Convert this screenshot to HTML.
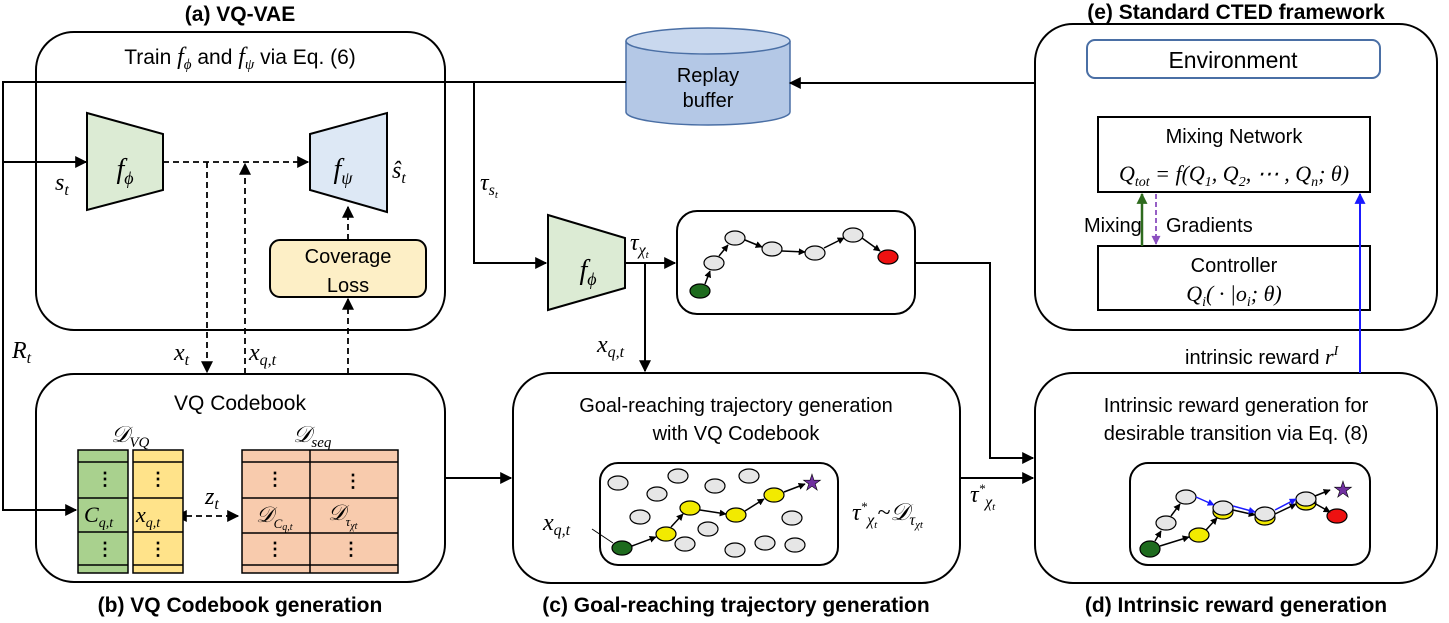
<!DOCTYPE html>
<html><head><meta charset="utf-8"><style>
body{margin:0;background:#fff}
svg text{font-family:"Liberation Sans",sans-serif;}
svg text.m,svg .m{font-family:"Liberation Serif","DejaVu Serif",serif;font-style:italic}
</style></head><body>
<svg width="1449" height="618" viewBox="0 0 1449 618" xmlns="http://www.w3.org/2000/svg">
<defs>
<marker id="a" viewBox="0 0 10 10" refX="9" refY="5" markerWidth="13" markerHeight="12" orient="auto-start-reverse" markerUnits="userSpaceOnUse"><path d="M0,0L10,5L0,10z" fill="#000"/></marker>
<marker id="s" viewBox="0 0 10 10" refX="9" refY="5" markerWidth="7" markerHeight="7" orient="auto" markerUnits="userSpaceOnUse"><path d="M0,0L10,5L0,10z" fill="#000"/></marker>
<marker id="bs" viewBox="0 0 10 10" refX="9" refY="5" markerWidth="7" markerHeight="7" orient="auto" markerUnits="userSpaceOnUse"><path d="M0,0L10,5L0,10z" fill="#1a1aff"/></marker>
<marker id="bl" viewBox="0 0 10 10" refX="9" refY="5" markerWidth="12" markerHeight="11" orient="auto" markerUnits="userSpaceOnUse"><path d="M0,0L10,5L0,10z" fill="#1a1aff"/></marker>
<marker id="g" viewBox="0 0 10 10" refX="9" refY="5" markerWidth="12" markerHeight="11" orient="auto" markerUnits="userSpaceOnUse"><path d="M0,0L10,5L0,10z" fill="#2e6b1e"/></marker>
<marker id="p" viewBox="0 0 10 10" refX="9" refY="5" markerWidth="10" markerHeight="9" orient="auto" markerUnits="userSpaceOnUse"><path d="M0,0L10,5L0,10z" fill="#8a4fbf"/></marker>
</defs>
<g fill="none" stroke="#000" stroke-width="2">
<rect x="36" y="32" width="409" height="298" rx="38"/>
<rect x="36" y="374" width="409" height="208" rx="38"/>
<rect x="513" y="373" width="447" height="210" rx="38"/>
<rect x="1035" y="373" width="402" height="210" rx="38"/>
<rect x="1035" y="24" width="402" height="306" rx="38"/>
<rect x="677" y="211" width="238" height="103" rx="20"/>
<rect x="600" y="463" width="238" height="102" rx="18"/>
<rect x="1130" y="463" width="240" height="102" rx="18"/>
</g>
<g font-size="21" text-anchor="middle" font-weight="bold">
<text x="240" y="21">(a) VQ-VAE</text>
<text x="240" y="612">(b) VQ Codebook generation</text>
<text x="736" y="612">(c) Goal-reaching trajectory generation</text>
<text x="1236" y="612">(d) Intrinsic reward generation</text>
<text x="1236" y="19">(e) Standard CTED framework</text>
</g>
<path d="M626,41 L626,112 A82,13 0 0 0 790,112 L790,41" fill="#b4c8e6" stroke="#4a6fa5" stroke-width="1.5"/>
<ellipse cx="708" cy="41" rx="82" ry="13" fill="#c9d8ee" stroke="#4a6fa5" stroke-width="1.5"/>
<text x="708" y="82" font-size="20" text-anchor="middle">Replay</text>
<text x="708" y="107" font-size="20" text-anchor="middle">buffer</text>
<g stroke="#000" stroke-width="2" fill="none">
<path d="M1035,83 L790,83" marker-end="url(#a)"/>
<path d="M626,82 L3,82 L3,510 L76,510" marker-end="url(#a)"/>
<path d="M3,162 L86,162" marker-end="url(#a)"/>
<path d="M474,82 L474,263 L546,263" marker-end="url(#a)"/>
<path d="M625,263 L675,263" marker-end="url(#a)"/>
<path d="M645,263 L645,371" marker-end="url(#a)"/>
<path d="M915,263 L990,263 L990,458 L1033,458" marker-end="url(#a)"/>
<path d="M445,478 L511,478" marker-end="url(#a)"/>
<path d="M960,478 L1033,478" marker-end="url(#a)"/>
</g>
<g stroke="#000" stroke-width="1.8" fill="none" stroke-dasharray="6,4">
<path d="M163,162 L308,162" marker-end="url(#a)"/>
<path d="M207,162 L207,372" marker-end="url(#a)"/>
<path d="M245,374 L245,164" marker-end="url(#a)"/>
<path d="M348,240 L348,207" marker-end="url(#a)"/>
<path d="M348,374 L348,299" marker-end="url(#a)"/>
<path d="M176,516 L238,516" marker-end="url(#a)" marker-start="url(#a)"/>
</g>
<polygon points="87,113 163,134 163,190 87,210" fill="#dcebd4" stroke="#000" stroke-width="2"/>
<polygon points="310,134 387,113 387,212 310,190" fill="#dde8f5" stroke="#000" stroke-width="2"/>
<polygon points="548,215 625,238 625,288 548,310" fill="#dcebd4" stroke="#000" stroke-width="2"/>
<text x="125" y="178" font-size="28" class="m" text-anchor="middle">f<tspan font-size="18" dy="6">ϕ</tspan></text>
<text x="343" y="178" font-size="28" class="m" text-anchor="middle">f<tspan font-size="18" dy="6">ψ</tspan></text>
<text x="588" y="279" font-size="28" class="m" text-anchor="middle">f<tspan font-size="18" dy="6">ϕ</tspan></text>
<rect x="270" y="240" width="156" height="57" rx="10" fill="#fdefc6" stroke="#000" stroke-width="2"/>
<text x="348" y="263" font-size="20" text-anchor="middle">Coverage</text>
<text x="348" y="292" font-size="20" text-anchor="middle">Loss</text>
<text x="240" y="64" font-size="21" text-anchor="middle">Train <tspan class="m" font-size="24">f</tspan><tspan class="m" font-size="15" dy="5">ϕ</tspan><tspan dy="-5"> and </tspan><tspan class="m" font-size="24">f</tspan><tspan class="m" font-size="15" dy="5">ψ</tspan><tspan dy="-5"> via Eq. (6)</tspan></text>
<g class="m" font-size="24">
<text x="55" y="190" class="m">s<tspan font-size="16" dy="5">t</tspan></text>
<text x="392" y="178" class="m">ŝ<tspan font-size="16" dy="5">t</tspan></text>
<text x="480" y="190" class="m">τ<tspan font-size="16" dy="5">s</tspan><tspan font-size="11" dy="3">t</tspan></text>
<text x="630" y="250" class="m">τ<tspan font-size="16" dy="5">χ</tspan><tspan font-size="11" dy="3">t</tspan></text>
<text x="12" y="358" class="m">R<tspan font-size="16" dy="5">t</tspan></text>
<text x="174" y="360" class="m">x<tspan font-size="16" dy="5">t</tspan></text>
<text x="249" y="360" class="m">x<tspan font-size="16" dy="5">q,t</tspan></text>
<text x="597" y="352" class="m">x<tspan font-size="16" dy="5">q,t</tspan></text>
<text x="543" y="530" class="m">x<tspan font-size="16" dy="5">q,t</tspan></text>
<text x="205" y="504" class="m">z<tspan font-size="16" dy="5">t</tspan></text>
<text x="852" y="520" class="m">τ<tspan font-size="13" dy="-9">*</tspan><tspan font-size="16" dy="14">χ</tspan><tspan font-size="11" dy="3">t</tspan><tspan dy="-8">~𝒟</tspan><tspan font-size="16" dy="5">τ</tspan><tspan font-size="11" dy="3">χt</tspan></text>
<text x="970" y="502" class="m">τ<tspan font-size="13" dy="-9">*</tspan><tspan font-size="16" dy="14">χ</tspan><tspan font-size="11" dy="3">t</tspan></text>
</g>
<text x="240" y="410" font-size="21" text-anchor="middle">VQ Codebook</text>
<text x="111" y="442" font-size="23" class="m">𝒟<tspan font-size="15" dy="5">VQ</tspan></text>
<text x="293" y="442" font-size="23" class="m">𝒟<tspan font-size="15" dy="5">seq</tspan></text>
<g stroke="#000" stroke-width="1.5">
<rect x="78" y="450" width="50" height="123" fill="#a9d18e"/>
<rect x="133" y="450" width="50" height="123" fill="#ffe38a"/>
<rect x="242" y="450" width="156" height="123" fill="#f8cbad"/>
<path d="M310,450V573 M78,462H128 M78,498H128 M78,532H128 M78,565H128 M133,462H183 M133,498H183 M133,532H183 M133,565H183 M242,462H398 M242,498H398 M242,533H398 M242,565H398"/>
</g>
<g font-size="18" text-anchor="middle" font-weight="bold">
<text x="105" y="485">⋮</text><text x="158" y="485">⋮</text><text x="105" y="555">⋮</text><text x="158" y="555">⋮</text>
<text x="275" y="485">⋮</text><text x="353" y="487">⋮</text><text x="275" y="555">⋮</text><text x="351" y="555">⋮</text>
</g>
<g font-size="22">
<text x="84" y="522" class="m">C<tspan font-size="14" dy="5">q,t</tspan></text>
<text x="136" y="522" class="m">x<tspan font-size="14" dy="5">q,t</tspan></text>
<text x="256" y="522" class="m">𝒟<tspan font-size="13" dy="6">C</tspan><tspan font-size="10" dy="2">q,t</tspan></text>
<text x="328" y="520" class="m">𝒟<tspan font-size="13" dy="6">τ</tspan><tspan font-size="10" dy="3">χt</tspan></text>
</g>
<g stroke="#000" stroke-width="1.2">
<ellipse cx="700" cy="291" rx="10" ry="7" fill="#1e6b1e"/>
<ellipse cx="714" cy="263" rx="10" ry="7" fill="#e6e6e6"/>
<ellipse cx="735" cy="238" rx="10" ry="7" fill="#e6e6e6"/>
<ellipse cx="772" cy="249" rx="10" ry="7" fill="#e6e6e6"/>
<ellipse cx="815" cy="253" rx="10" ry="7" fill="#e6e6e6"/>
<ellipse cx="853" cy="235" rx="10" ry="7" fill="#e6e6e6"/>
<ellipse cx="888" cy="257" rx="10" ry="7" fill="#ee1111"/>
</g>
<g stroke="#000" stroke-width="1.5" marker-end="url(#s)">
<path d="M705,284L710,271"/><path d="M719,256L728,245"/><path d="M745,240L762,247"/><path d="M782,251L805,252"/><path d="M824,248L844,238"/><path d="M862,238L880,251"/>
</g>
<text x="736" y="412" font-size="20" text-anchor="middle">Goal-reaching trajectory generation</text>
<text x="736" y="440" font-size="20" text-anchor="middle">with VQ Codebook</text>
<g stroke="#000" stroke-width="1.2" fill="#e6e6e6">
<ellipse cx="618" cy="483" rx="10" ry="7"/><ellipse cx="678" cy="476" rx="10" ry="7"/><ellipse cx="749" cy="476" rx="10" ry="7"/>
<ellipse cx="657" cy="494" rx="10" ry="7"/><ellipse cx="715" cy="486" rx="10" ry="7"/><ellipse cx="640" cy="517" rx="10" ry="7"/>
<ellipse cx="708" cy="529" rx="10" ry="7"/><ellipse cx="685" cy="544" rx="10" ry="7"/><ellipse cx="735" cy="550" rx="10" ry="7"/>
<ellipse cx="765" cy="543" rx="10" ry="7"/><ellipse cx="795" cy="545" rx="10" ry="7"/><ellipse cx="792" cy="518" rx="10" ry="7"/>
</g>
<g stroke="#000" stroke-width="1.2">
<ellipse cx="622" cy="548" rx="10" ry="7" fill="#1e6b1e"/>
<ellipse cx="666" cy="534" rx="10" ry="7" fill="#f2ea00"/>
<ellipse cx="690" cy="508" rx="10" ry="7" fill="#f2ea00"/>
<ellipse cx="736" cy="515" rx="10" ry="7" fill="#f2ea00"/>
<ellipse cx="774" cy="495" rx="10" ry="7" fill="#f2ea00"/>
</g>
<g stroke="#000" stroke-width="1.5" marker-end="url(#s)">
<path d="M632,546L656,537"/><path d="M671,527L683,514"/><path d="M700,510L726,514"/><path d="M745,511L764,499"/><path d="M784,492L805,484"/>
</g>
<path d="M592,529L613,543" stroke="#000" stroke-width="1"/>
<text x="812" y="490" font-size="22" fill="#7030a0" stroke="#000" stroke-width="0.6" text-anchor="middle">★</text>
<text x="1236" y="412" font-size="20" text-anchor="middle">Intrinsic reward generation for</text>
<text x="1236" y="440" font-size="20" text-anchor="middle">desirable transition via Eq. (8)</text>
<g stroke="#000" stroke-width="1.2">
<ellipse cx="1150" cy="549" rx="10" ry="8" fill="#1e6b1e"/>
<ellipse cx="1166" cy="523" rx="10" ry="7" fill="#e6e6e6"/>
<ellipse cx="1186" cy="497" rx="10" ry="7" fill="#e6e6e6"/>
<ellipse cx="1199" cy="535" rx="10" ry="7" fill="#f2ea00"/>
<ellipse cx="1223" cy="512" rx="10" ry="7" fill="#f2ea00"/><ellipse cx="1223" cy="508" rx="10" ry="7" fill="#e6e6e6"/>
<ellipse cx="1265" cy="518" rx="10" ry="7" fill="#f2ea00"/><ellipse cx="1265" cy="514" rx="10" ry="7" fill="#e6e6e6"/>
<ellipse cx="1306" cy="503" rx="10" ry="7" fill="#f2ea00"/><ellipse cx="1306" cy="499" rx="10" ry="7" fill="#e6e6e6"/>
<ellipse cx="1337" cy="516" rx="10" ry="7" fill="#ee1111"/>
</g>
<g stroke="#000" stroke-width="1.5" marker-end="url(#s)">
<path d="M1155,541L1161,531"/><path d="M1171,516L1180,504"/><path d="M1160,546L1189,537"/><path d="M1206,530L1217,518"/><path d="M1233,510L1255,515"/><path d="M1275,514L1296,504"/><path d="M1315,496L1330,490"/><path d="M1314,503L1330,512"/>
</g>
<g stroke="#1a1aff" stroke-width="1.5" marker-end="url(#bs)">
<path d="M1196,497L1214,505"/><path d="M1233,506L1255,512"/><path d="M1275,510L1296,499"/>
</g>
<text x="1343" y="497" font-size="22" fill="#7030a0" stroke="#000" stroke-width="0.6" text-anchor="middle">★</text>
<rect x="1087" y="40" width="293" height="38" rx="8" fill="#fff" stroke="#4a6fa5" stroke-width="2"/>
<text x="1233" y="68" font-size="23" text-anchor="middle">Environment</text>
<rect x="1098" y="117" width="272" height="75" fill="#fff" stroke="#000" stroke-width="2"/>
<text x="1234" y="143" font-size="20" text-anchor="middle">Mixing Network</text>
<text x="1234" y="181" font-size="22" class="m" text-anchor="middle">Q<tspan font-size="14" dy="5">tot</tspan><tspan dy="-5"> = f(Q</tspan><tspan font-size="14" dy="5">1</tspan><tspan dy="-5">, Q</tspan><tspan font-size="14" dy="5">2</tspan><tspan dy="-5">, ⋯ , Q</tspan><tspan font-size="14" dy="5">n</tspan><tspan dy="-5">; θ)</tspan></text>
<rect x="1098" y="246" width="272" height="64" fill="#fff" stroke="#000" stroke-width="2"/>
<text x="1234" y="272" font-size="20" text-anchor="middle">Controller</text>
<text x="1234" y="301" font-size="22" class="m" text-anchor="middle">Q<tspan font-size="14" dy="5">i</tspan><tspan dy="-5">( · |o</tspan><tspan font-size="14" dy="5">i</tspan><tspan dy="-5">; θ)</tspan></text>
<path d="M1142,246L1142,194" stroke="#2e6b1e" stroke-width="2.5" marker-end="url(#g)"/>
<path d="M1156,194L1156,244" stroke="#8a4fbf" stroke-width="1.8" stroke-dasharray="5,3" marker-end="url(#p)"/>
<text x="1084" y="232" font-size="20">Mixing</text>
<text x="1166" y="232" font-size="20">Gradients</text>
<path d="M1360,373L1360,194" stroke="#1a1aff" stroke-width="2" marker-end="url(#bl)"/>
<text x="1185" y="364" font-size="20">intrinsic reward <tspan class="m" font-size="22">r</tspan><tspan class="m" font-size="14" dy="-9">I</tspan></text>
</svg>
</body></html>
